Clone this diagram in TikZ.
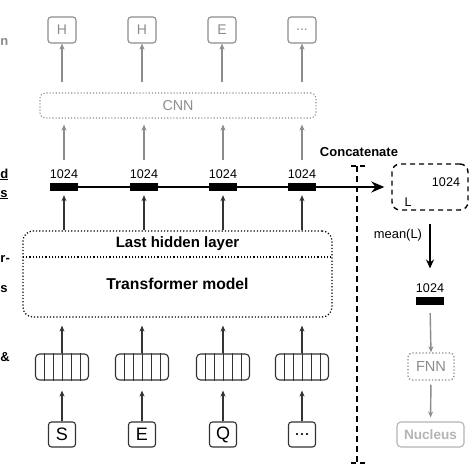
\documentclass[tikz,border=0pt]{standalone}
\usepackage{fontspec}
\setmainfont{Liberation Sans}
\usetikzlibrary{arrows.meta,calc,positioning}
\definecolor{gr}{HTML}{8C8C8C}
\definecolor{lgr}{HTML}{B4B4B4}
\definecolor{dk}{HTML}{333333}
\newcommand\tdotsx{...}
\begin{document}
\begin{tikzpicture}[x=1pt,y=-1pt,
  fs/.style={font=\fontsize{#1}{#1}\selectfont},
  outbox/.style={draw=gr, rounded corners=3pt, line width=1.1pt, minimum width=28pt, minimum height=26pt, inner sep=0pt, text=gr, fs=14},
  inbox/.style={draw=dk, rounded corners=3pt, line width=1.1pt, minimum width=27pt, minimum height=25pt, inner sep=0pt, text=black, fs=18},
  embbox/.style={draw=dk, rounded corners=4pt, line width=1.1pt, minimum width=53pt, minimum height=26pt, inner sep=0pt},
  bar/.style={fill=black, draw=none, minimum width=28pt, minimum height=8pt, inner sep=0pt},
  num/.style={fs=12.6, inner sep=0pt},
  garr/.style={draw=gr, line width=1.1pt, -{Stealth[length=6pt,width=5pt]}},
  barr/.style={draw=dk, line width=1.1pt, -{Stealth[length=6pt,width=5pt]}},
  frag/.style={font=\bfseries\fontsize{13}{13}\selectfont, inner sep=0pt, anchor=base west},
]
\clip (0,0) rectangle (474,474);
\fill[white] (0,0) rectangle (474,474);

% left edge fragments
\node[frag, text=gr] (f1) at (0.3,45) {n};
\node[frag] (f2) at (0.3,178) {\underline{d}};
\node[frag] (f3) at (0.3,197) {\underline{s}};
\node[frag] (f4) at (0.3,262) {r-};
\node[frag] (f5) at (0.3,292) {s};
\node[frag] (f6) at (0.3,361) {\&};

% top output boxes
\node[outbox] (o1) at (62,30) {H};
\node[outbox] (o2) at (142,30) {H};
\node[outbox] (o3) at (222,30) {E};
\node[outbox] (o4) at (302,30) {\tdotsx};

% CNN
\node[draw=gr, dotted, line width=1.1pt, rounded corners=5pt, minimum width=276pt, minimum height=25pt, inner sep=0pt, text=gr, fs=14.3] (cnn) at (178,105.5) {CNN};

% transformer box
\node[draw=black, dotted, line width=1.2pt, rounded corners=10pt, minimum width=309pt, minimum height=86pt, inner sep=0pt] (tf) at (177.5,274) {};
\coordinate (dl) at (23,257);
\coordinate (dr) at (332,257);
\draw[dotted, line width=1.2pt] (dl) -- (dr);
\node[font=\bfseries\fontsize{15}{15}\selectfont] (lhl) at (177.5,244) {Last hidden layer};
\node[font=\bfseries\fontsize{15.7}{15.7}\selectfont] (tm) at (177.5,284) {Transformer model};

% L box and main line
\node[draw=black, dash pattern=on 5pt off 4pt, line width=1.4pt, rounded corners=8pt, minimum width=76pt, minimum height=46pt, inner sep=0pt] (Lb) at (430,187) {};
\node[num] (Lnum) at (446,182) {1024};
\node[fs=12.6, inner sep=0pt] (Lt) at (408,202) {L};

\node[bar] (b1) at (64,187) {};
\node[bar] (b2) at (144,187) {};
\node[bar] (b3) at (223,187) {};
\node[bar] (b4) at (302,187) {};
\draw[line width=1.7pt, -{Stealth[length=13pt,width=11pt]}, shorten >=7pt] (b1.center) -- (Lb.west);
\foreach \i in {1,2,3,4} {
  \node[bar] at (b\i) {};
  \node[num, above=4pt of b\i] (n\i) {1024};
}

% Concatenate and separator
\node[font=\bfseries\fontsize{13}{13}\selectfont] (cc) at (359,152) {Concatenate};
\coordinate (st) at (357,166);
\coordinate (sb) at (357,463);
\coordinate (stl) at (351,166);
\coordinate (str) at (367,166);
\coordinate (sbl) at (351,463);
\coordinate (sbr) at (367,463);
\draw[line width=1.6pt, dash pattern=on 6pt off 4pt] (st) -- (sb);
\draw[line width=1.6pt, dash pattern=on 5pt off 4pt] (stl) -- (str);
\draw[line width=1.6pt, dash pattern=on 5pt off 4pt] (sbl) -- (sbr);

% embeddings and inputs
\foreach \i/\x/\t in {1/62/S,2/142/E,3/223/Q,4/302/\tdotsx} {
  \node[embbox] (e\i) at (\x,367) {};
  \foreach \k in {1,2,3,4,5} {
    \draw[dk, line width=0.9pt] ($(e\i.south west)!\k/6!(e\i.south east)$) -- ($(e\i.north west)!\k/6!(e\i.north east)$);
  }
  \node[inbox] (in\i) at (\x,434.5) {\t};
}

% right column
\node[fs=12.9, inner sep=0pt] (ml) at (398,235) {mean(L)};
\node[bar] (mb) at (430,301) {};
\node[num, above=4pt of mb] (mn) {1024};
\draw[line width=1.5pt, draw=black, -{Stealth[length=9pt,width=8pt]}, shorten <=13pt, shorten >=15pt] (Lb.south) -- (mn.north);
\node[draw=gr, dotted, line width=1.3pt, rounded corners=4pt, minimum width=46pt, minimum height=27pt, inner sep=0pt, text=gr, fs=14.6] (fnn) at (431,366.5) {FNN};
\node[draw=lgr, line width=1.1pt, rounded corners=4pt, minimum width=67pt, minimum height=25pt, inner sep=0pt, text=lgr, font=\bfseries\fontsize{13.6}{13.6}\selectfont] (nuc) at (430.5,434.5) {Nucleus};
\draw[garr, line width=1.4pt, shorten <=8pt] (mb.south) -- (fnn.north);
\draw[garr, line width=1.4pt, shorten <=4pt, shorten >=4pt] (fnn.south) -- (nuc.north);

% connectors
\foreach \i in {1,2,3,4} {
  \draw[garr, shorten <=10pt] (o\i.south |- cnn.north) -- (o\i.south);
  \draw[garr, shorten <=23pt, shorten >=6pt] (b\i.north) -- (b\i.north |- cnn.south);
  \draw[barr, shorten >=4pt] (b\i.south |- tf.north) -- (b\i.south);
  \draw[barr, shorten >=8pt] (e\i.north) -- (e\i.north |- tf.south);
  \draw[barr, shorten >=10pt] (in\i.north) -- (e\i.south);
}
\end{tikzpicture}
\end{document}
